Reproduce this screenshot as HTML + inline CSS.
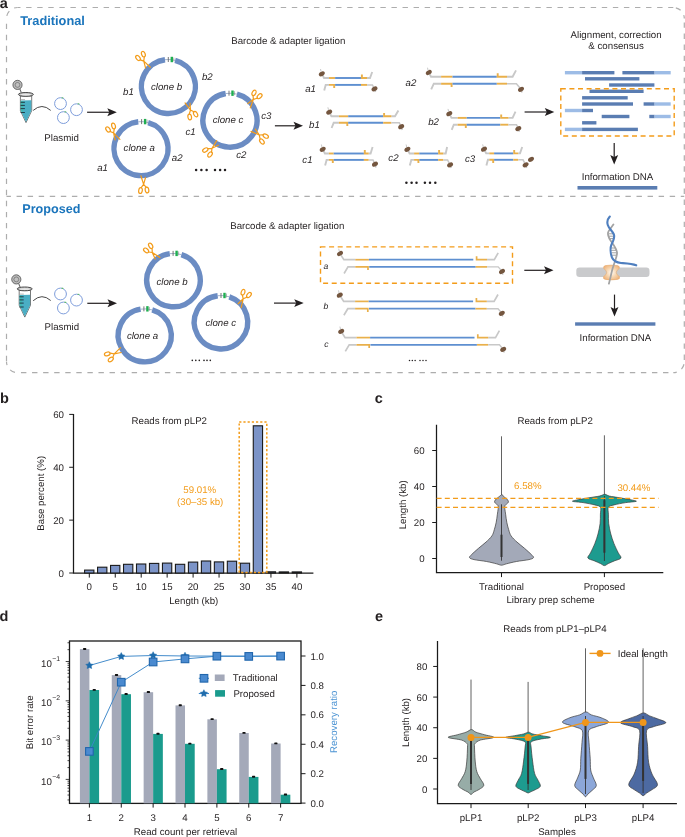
<!DOCTYPE html><html><head><meta charset="utf-8"><style>html,body{margin:0;padding:0;background:#fff;overflow:hidden} svg{display:block;will-change:transform} text{font-family:'Liberation Sans',sans-serif;text-rendering:geometricPrecision}</style></head><body>
<svg width="685" height="837" viewBox="0 0 685 837">
<defs>
<g id="sc" fill="none" stroke="#f39c1a" stroke-width="1.2" stroke-linecap="round" stroke-linejoin="round"><path d="M-2.1 -1.2 L0.6 7.4 L3.1 10.2 M2.5 0.6 L0.6 7.4 L-1.8 10.6"/><ellipse cx="-2.5" cy="13.6" rx="1.8" ry="2.9" transform="rotate(10 -2.5 13.6)"/><ellipse cx="4.0" cy="13.0" rx="1.8" ry="2.9" transform="rotate(-10 4.0 13.0)"/></g>
<g id="tube"><path d="M20.4 96 L20.4 110.7 L26 122.6 L31.7 110.7 L31.7 96 Z" fill="#fff" stroke="#555" stroke-width="0.8"/><path d="M20.8 100.5 L31.3 100.3 L31.3 110.7 L26 122.1 L20.8 110.7 Z" fill="#4aaec4"/><path d="M20.8 101 L23 101 L23 113 L20.8 110.7 Z" fill="#3cbcae" opacity="0.8"/><path d="M20.6 102.3 H24.9 M20.6 105.4 H24.9 M20.6 108.6 H24.9 M20.6 112.5 H24.9" stroke="#1f3f48" stroke-width="1.0"/><path d="M20.6 99.6 H25" stroke="#999" stroke-width="0.7"/><ellipse cx="25.9" cy="94.4" rx="7.5" ry="1.9" fill="#c4c4c4" stroke="#4a4a4a" stroke-width="1.0"/><ellipse cx="25.9" cy="94.6" rx="5.2" ry="0.9" fill="#e8e8e8"/><path d="M19.8 88.9 L21.3 92.6" stroke="#666" stroke-width="1.1"/><circle cx="17.5" cy="84.9" r="4.6" fill="#a8a8a8" stroke="#555" stroke-width="0.8"/><circle cx="17.5" cy="84.9" r="3.4" fill="none" stroke="#d0d0d0" stroke-width="0.6"/><circle cx="17.5" cy="84.9" r="2.4" fill="#c0c0c0" stroke="#666" stroke-width="0.6"/></g>
</defs>
<line x1="17.5" y1="7.5" x2="673.3" y2="7.5" stroke="#adadad" stroke-width="1.2" stroke-dasharray="5.4 5.67" stroke-dashoffset="2.42"/>
<line x1="17.5" y1="372.7" x2="673.3" y2="372.7" stroke="#adadad" stroke-width="1.2" stroke-dasharray="5.4 5.67" stroke-dashoffset="7.59"/>
<line x1="6.5" y1="18.5" x2="6.5" y2="361.7" stroke="#adadad" stroke-width="1.2" stroke-dasharray="5.4 5.67" stroke-dashoffset="5.86"/>
<line x1="684.3" y1="18.5" x2="684.3" y2="361.7" stroke="#adadad" stroke-width="1.2" stroke-dasharray="5.4 5.67" stroke-dashoffset="7.13"/>
<line x1="6.5" y1="196.4" x2="684.3" y2="196.4" stroke="#adadad" stroke-width="1.2" stroke-dasharray="5.4 5.67" stroke-dashoffset="0.99"/>
<path d="M6.5 18.5 A11 11 0 0 1 17.5 7.5" fill="none" stroke="#adadad" stroke-width="1.2" stroke-dasharray="5.4 5.67" stroke-dashoffset="-2.6"/>
<path d="M673.3 7.5 A11 11 0 0 1 684.3 18.5" fill="none" stroke="#adadad" stroke-width="1.2" stroke-dasharray="5.4 5.67" stroke-dashoffset="-2.6"/>
<path d="M684.3 361.7 A11 11 0 0 1 673.3 372.7" fill="none" stroke="#adadad" stroke-width="1.2" stroke-dasharray="5.4 5.67" stroke-dashoffset="-2.6"/>
<path d="M17.5 372.7 A11 11 0 0 1 6.5 361.7" fill="none" stroke="#adadad" stroke-width="1.2" stroke-dasharray="5.4 5.67" stroke-dashoffset="-2.6"/>
<text x="-0.2" y="8" font-size="14.5" text-anchor="start" fill="#231f20" font-weight="bold" font-style="normal" >a</text>
<text x="20.2" y="24.5" font-size="12.8" text-anchor="start" fill="#1b75bc" font-weight="bold" font-style="normal" >Traditional</text>
<text x="22.3" y="212.8" font-size="12.6" text-anchor="start" fill="#1b75bc" font-weight="bold" font-style="normal" >Proposed</text>
<use href="#tube"/>
<path d="M33.2 110.4 Q41.9 102.6 50.7 110.4" fill="none" stroke="#333" stroke-width="0.9"/>
<circle cx="60.5" cy="103.6" r="5.9" fill="none" stroke="#7d9cda" stroke-width="1.0"/>
<path d="M61.7 97.7 a5.9 5.9 0 0 1 1.6 0.3" stroke="#5cc05c" stroke-width="1.1" fill="none"/>
<circle cx="76.5" cy="109.7" r="5.9" fill="none" stroke="#7d9cda" stroke-width="1.0"/>
<path d="M77.7 103.8 a5.9 5.9 0 0 1 1.6 0.3" stroke="#5cc05c" stroke-width="1.1" fill="none"/>
<circle cx="63.4" cy="117.6" r="5.9" fill="none" stroke="#7d9cda" stroke-width="1.0"/>
<path d="M64.6 111.7 a5.9 5.9 0 0 1 1.6 0.3" stroke="#5cc05c" stroke-width="1.1" fill="none"/>
<text x="61.6" y="141.4" font-size="9.7" text-anchor="middle" fill="#231f20" font-weight="normal" font-style="normal" >Plasmid</text>
<line x1="87.1" y1="112.25" x2="109.8" y2="112.25" stroke="#231f20" stroke-width="1.2"/>
<path d="M116.8 112.25 L107.3 108.3 L109.3 112.25 L107.3 116.2 Z" fill="#231f20"/>
<g transform="translate(-1.2 194.5)"><use href="#tube"/></g>
<path d="M33.2 300.7 Q41.9 292.8 50.7 300.5" fill="none" stroke="#333" stroke-width="0.9"/>
<circle cx="60.5" cy="294" r="5.9" fill="none" stroke="#7d9cda" stroke-width="1.0"/>
<path d="M61.7 288.1 a5.9 5.9 0 0 1 1.6 0.3" stroke="#5cc05c" stroke-width="1.1" fill="none"/>
<circle cx="76.5" cy="300.1" r="5.9" fill="none" stroke="#7d9cda" stroke-width="1.0"/>
<path d="M77.7 294.2 a5.9 5.9 0 0 1 1.6 0.3" stroke="#5cc05c" stroke-width="1.1" fill="none"/>
<circle cx="63.4" cy="308" r="5.9" fill="none" stroke="#7d9cda" stroke-width="1.0"/>
<path d="M64.6 302.1 a5.9 5.9 0 0 1 1.6 0.3" stroke="#5cc05c" stroke-width="1.1" fill="none"/>
<text x="61.8" y="330.4" font-size="9.7" text-anchor="middle" fill="#231f20" font-weight="normal" font-style="normal" >Plasmid</text>
<line x1="87.3" y1="303.3" x2="110" y2="303.3" stroke="#231f20" stroke-width="1.2"/>
<path d="M117 303.3 L107.5 299.35 L109.5 303.3 L107.5 307.25 Z" fill="#231f20"/>
<path d="M148.1 122.55 A27 27 0 1 1 138.3 121.74" fill="none" stroke="#6b8cc3" stroke-width="5.4"/>
<path d="M138.3 121.74 A27 27 0 0 1 148.1 122.55" fill="none" stroke="#8aa0c0" stroke-width="0.8"/>
<line x1="141.6" y1="119.1" x2="141.6" y2="124.1" stroke="#666" stroke-width="0.9"/>
<rect x="143.9" y="118.9" width="2.4" height="5.4" fill="#1fae4f"/>
<line x1="147.1" y1="119.6" x2="147.1" y2="123.6" stroke="#888" stroke-width="0.6"/>
<path d="M175.1 60.34 A27 27 0 1 1 165 59.71" fill="none" stroke="#6b8cc3" stroke-width="5.4"/>
<path d="M165 59.71 A27 27 0 0 1 175.1 60.34" fill="none" stroke="#8aa0c0" stroke-width="0.8"/>
<line x1="168.3" y1="57" x2="168.3" y2="62" stroke="#666" stroke-width="0.9"/>
<rect x="170.6" y="56.8" width="2.4" height="5.4" fill="#1fae4f"/>
<line x1="173.8" y1="57.5" x2="173.8" y2="61.5" stroke="#888" stroke-width="0.6"/>
<path d="M236.9 94.1 A27 27 0 1 1 225.7 93.54" fill="none" stroke="#6b8cc3" stroke-width="5.4"/>
<path d="M225.7 93.54 A27 27 0 0 1 236.9 94.1" fill="none" stroke="#8aa0c0" stroke-width="0.8"/>
<line x1="229" y1="90.7" x2="229" y2="95.7" stroke="#666" stroke-width="0.9"/>
<rect x="231.3" y="90.5" width="2.4" height="5.4" fill="#1fae4f"/>
<line x1="234.5" y1="91.2" x2="234.5" y2="95.2" stroke="#888" stroke-width="0.6"/>
<text x="139.2" y="151.2" font-size="9.7" text-anchor="middle" fill="#231f20" font-weight="normal" font-style="italic" >clone a</text>
<text x="166.6" y="89.5" font-size="9.7" text-anchor="middle" fill="#231f20" font-weight="normal" font-style="italic" >clone b</text>
<text x="228" y="123.4" font-size="9.7" text-anchor="middle" fill="#231f20" font-weight="normal" font-style="italic" >clone c</text>
<text x="97.2" y="170.5" font-size="9.7" text-anchor="start" fill="#231f20" font-weight="normal" font-style="italic" >a1</text>
<text x="171.8" y="161.1" font-size="9.7" text-anchor="start" fill="#231f20" font-weight="normal" font-style="italic" >a2</text>
<text x="123" y="94.9" font-size="9.7" text-anchor="start" fill="#231f20" font-weight="normal" font-style="italic" >b1</text>
<text x="201.9" y="79.7" font-size="9.7" text-anchor="start" fill="#231f20" font-weight="normal" font-style="italic" >b2</text>
<text x="185.5" y="135.2" font-size="9.7" text-anchor="start" fill="#231f20" font-weight="normal" font-style="italic" >c1</text>
<text x="236.2" y="158.2" font-size="9.7" text-anchor="start" fill="#231f20" font-weight="normal" font-style="italic" >c2</text>
<text x="261.2" y="119.4" font-size="9.7" text-anchor="start" fill="#231f20" font-weight="normal" font-style="italic" >c3</text>
<use href="#sc" transform="translate(143 177) rotate(0) scale(1.0)"/>
<use href="#sc" transform="translate(117.5 139.2) rotate(153) scale(1.0)"/>
<use href="#sc" transform="translate(148 67.2) rotate(150) scale(1.0)"/>
<use href="#sc" transform="translate(187.4 103.3) rotate(-20) scale(1.0)"/>
<use href="#sc" transform="translate(249.4 105.6) rotate(-143) scale(1.0)"/>
<use href="#sc" transform="translate(253.3 130.6) rotate(-49) scale(1.0)"/>
<use href="#sc" transform="translate(217.2 143) rotate(49) scale(1.0)"/>
<circle cx="406.4" cy="182.7" r="1.25" fill="#231f20"/>
<circle cx="411.6" cy="182.7" r="1.25" fill="#231f20"/>
<circle cx="416.5" cy="182.7" r="1.25" fill="#231f20"/>
<circle cx="424.9" cy="182.7" r="1.25" fill="#231f20"/>
<circle cx="430" cy="182.7" r="1.25" fill="#231f20"/>
<circle cx="435.3" cy="182.7" r="1.25" fill="#231f20"/>
<circle cx="196.1" cy="169.9" r="1.25" fill="#231f20"/>
<circle cx="201.4" cy="169.9" r="1.25" fill="#231f20"/>
<circle cx="206.6" cy="169.9" r="1.25" fill="#231f20"/>
<circle cx="215" cy="169.9" r="1.25" fill="#231f20"/>
<circle cx="220.1" cy="169.9" r="1.25" fill="#231f20"/>
<circle cx="225" cy="169.9" r="1.25" fill="#231f20"/>
<line x1="274.9" y1="125.8" x2="296" y2="125.8" stroke="#231f20" stroke-width="1.2"/>
<path d="M303 125.8 L293.5 121.85 L295.5 125.8 L293.5 129.75 Z" fill="#231f20"/>
<path d="M322.7 75.4 L324 78 H329" fill="none" stroke="#c8c8c8" stroke-width="1.9"/>
<path d="M367 78 H370 L372.2 72" fill="none" stroke="#c8c8c8" stroke-width="1.9"/>
<path d="M329 78 H335.1" stroke="#e9b04b" stroke-width="1.9"/>
<path d="M335.1 78 H361" stroke="#5e8fd0" stroke-width="1.9"/>
<path d="M361.9 74.6 V78 H367" fill="none" stroke="#e9b04b" stroke-width="1.9"/>
<path d="M324.2 90.4 L325.7 84.9 H329" fill="none" stroke="#c8c8c8" stroke-width="1.9"/>
<path d="M329 84.9 H334.2 V88.1" fill="none" stroke="#e9b04b" stroke-width="1.9"/>
<path d="M335.1 84.9 H361" stroke="#5e8fd0" stroke-width="1.9"/>
<path d="M361 84.9 H367" stroke="#e9b04b" stroke-width="1.9"/>
<path d="M367 84.9 H372.4 L374.3 88.5 L375.5 92.1" fill="none" stroke="#c8c8c8" stroke-width="1.52"/>
<ellipse cx="321.8" cy="73.8" rx="3.2" ry="2.2" transform="rotate(-32 321.8 73.8)" fill="#74563f"/>
<path d="M320.5 69 L321.1 71.6" fill="none" stroke="#c8c8c8" stroke-width="1"/>
<ellipse cx="374.5" cy="88.9" rx="3.2" ry="2.2" transform="rotate(-32 374.5 88.9)" fill="#74563f"/>
<text x="305.2" y="91.9" font-size="9.7" text-anchor="start" fill="#231f20" font-weight="normal" font-style="italic" >a1</text>
<path d="M429.7 74.1 L431 76.7 H441.1" fill="none" stroke="#c8c8c8" stroke-width="1.9"/>
<path d="M507 76.7 H512.6 L516 70.4" fill="none" stroke="#c8c8c8" stroke-width="1.9"/>
<path d="M441.1 76.7 H452.5" stroke="#e9b04b" stroke-width="1.9"/>
<path d="M452.5 76.7 H496.8" stroke="#5e8fd0" stroke-width="1.9"/>
<path d="M497.7 73.3 V76.7 H507" fill="none" stroke="#e9b04b" stroke-width="1.9"/>
<path d="M431.2 89.4 L433.8 83.7 H441.1" fill="none" stroke="#c8c8c8" stroke-width="1.9"/>
<path d="M441.1 83.7 H451.6 V86.9" fill="none" stroke="#e9b04b" stroke-width="1.9"/>
<path d="M452.5 83.7 H496.8" stroke="#5e8fd0" stroke-width="1.9"/>
<path d="M496.8 83.7 H507" stroke="#e9b04b" stroke-width="1.9"/>
<path d="M507 83.7 H516.4 L520.8 88.9 L522 92.5" fill="none" stroke="#c8c8c8" stroke-width="1.52"/>
<ellipse cx="428.8" cy="72.5" rx="3.2" ry="2.2" transform="rotate(-32 428.8 72.5)" fill="#74563f"/>
<path d="M427.5 67.7 L428.1 70.3" fill="none" stroke="#c8c8c8" stroke-width="1"/>
<ellipse cx="521" cy="89.3" rx="3.2" ry="2.2" transform="rotate(-32 521 89.3)" fill="#74563f"/>
<text x="405.5" y="85.6" font-size="9.7" text-anchor="start" fill="#231f20" font-weight="normal" font-style="italic" >a2</text>
<path d="M330.1 113.7 L331.4 116.3 H338.9" fill="none" stroke="#c8c8c8" stroke-width="1.9"/>
<path d="M391.4 116.3 H395 L398.4 110.5" fill="none" stroke="#c8c8c8" stroke-width="1.9"/>
<path d="M338.9 116.3 H348.2" stroke="#e9b04b" stroke-width="1.9"/>
<path d="M348.2 116.3 H383.2" stroke="#5e8fd0" stroke-width="1.9"/>
<path d="M384.1 112.9 V116.3 H391.4" fill="none" stroke="#e9b04b" stroke-width="1.9"/>
<path d="M331.6 128 L333.7 122.8 H338.9" fill="none" stroke="#c8c8c8" stroke-width="1.9"/>
<path d="M338.9 122.8 H347.3 V126" fill="none" stroke="#e9b04b" stroke-width="1.9"/>
<path d="M348.2 122.8 H383.2" stroke="#5e8fd0" stroke-width="1.9"/>
<path d="M383.2 122.8 H391.4" stroke="#e9b04b" stroke-width="1.9"/>
<path d="M391.4 122.8 H399.3 L401 126.3 L402.2 129.9" fill="none" stroke="#c8c8c8" stroke-width="1.52"/>
<ellipse cx="329.2" cy="112.1" rx="3.2" ry="2.2" transform="rotate(-32 329.2 112.1)" fill="#74563f"/>
<path d="M327.9 107.3 L328.5 109.9" fill="none" stroke="#c8c8c8" stroke-width="1"/>
<ellipse cx="401.2" cy="126.7" rx="3.2" ry="2.2" transform="rotate(-32 401.2 126.7)" fill="#74563f"/>
<text x="309" y="127.9" font-size="9.7" text-anchor="start" fill="#231f20" font-weight="normal" font-style="italic" >b1</text>
<path d="M450.2 115.3 L451.5 117.9 H457.6" fill="none" stroke="#c8c8c8" stroke-width="1.9"/>
<path d="M508.5 117.9 H512.6 L515.5 111.6" fill="none" stroke="#c8c8c8" stroke-width="1.9"/>
<path d="M457.6 117.9 H466.7" stroke="#e9b04b" stroke-width="1.9"/>
<path d="M466.7 117.9 H500.3" stroke="#5e8fd0" stroke-width="1.9"/>
<path d="M501.2 114.5 V117.9 H508.5" fill="none" stroke="#e9b04b" stroke-width="1.9"/>
<path d="M451.7 129.9 L453.8 124.7 H457.6" fill="none" stroke="#c8c8c8" stroke-width="1.9"/>
<path d="M457.6 124.7 H465.8 V127.9" fill="none" stroke="#e9b04b" stroke-width="1.9"/>
<path d="M466.7 124.7 H500.3" stroke="#5e8fd0" stroke-width="1.9"/>
<path d="M500.3 124.7 H508.5" stroke="#e9b04b" stroke-width="1.9"/>
<path d="M508.5 124.7 H516.5 L518.1 128.2 L519.3 131.8" fill="none" stroke="#c8c8c8" stroke-width="1.52"/>
<ellipse cx="449.3" cy="113.7" rx="3.2" ry="2.2" transform="rotate(-32 449.3 113.7)" fill="#74563f"/>
<path d="M448 108.9 L448.6 111.5" fill="none" stroke="#c8c8c8" stroke-width="1"/>
<ellipse cx="518.3" cy="128.6" rx="3.2" ry="2.2" transform="rotate(-32 518.3 128.6)" fill="#74563f"/>
<text x="428.2" y="124.5" font-size="9.7" text-anchor="start" fill="#231f20" font-weight="normal" font-style="italic" >b2</text>
<path d="M323.6 150.9 L324.9 153.5 H328.9" fill="none" stroke="#c8c8c8" stroke-width="1.9"/>
<path d="M368.7 153.5 H370.6 L372.6 147" fill="none" stroke="#c8c8c8" stroke-width="1.9"/>
<path d="M328.9 153.5 H333.7" stroke="#e9b04b" stroke-width="1.9"/>
<path d="M333.7 153.5 H363.9" stroke="#5e8fd0" stroke-width="1.9"/>
<path d="M364.8 150.1 V153.5 H368.7" fill="none" stroke="#e9b04b" stroke-width="1.9"/>
<path d="M325.1 165.5 L326.6 159.9 H328.9" fill="none" stroke="#c8c8c8" stroke-width="1.9"/>
<path d="M328.9 159.9 H332.8 V163.1" fill="none" stroke="#e9b04b" stroke-width="1.9"/>
<path d="M333.7 159.9 H363.9" stroke="#5e8fd0" stroke-width="1.9"/>
<path d="M363.9 159.9 H368.7" stroke="#e9b04b" stroke-width="1.9"/>
<path d="M368.7 159.9 H373 L374.8 163.8 L376 167.4" fill="none" stroke="#c8c8c8" stroke-width="1.52"/>
<ellipse cx="322.7" cy="149.3" rx="3.2" ry="2.2" transform="rotate(-32 322.7 149.3)" fill="#74563f"/>
<path d="M321.4 144.5 L322 147.1" fill="none" stroke="#c8c8c8" stroke-width="1"/>
<ellipse cx="375" cy="164.2" rx="3.2" ry="2.2" transform="rotate(-32 375 164.2)" fill="#74563f"/>
<text x="302.3" y="163.4" font-size="9.7" text-anchor="start" fill="#231f20" font-weight="normal" font-style="italic" >c1</text>
<path d="M408.3 150.9 L409.6 153.5 H414.1" fill="none" stroke="#c8c8c8" stroke-width="1.9"/>
<path d="M443.3 153.5 H445.7 L447.1 147" fill="none" stroke="#c8c8c8" stroke-width="1.9"/>
<path d="M414.1 153.5 H419.3" stroke="#e9b04b" stroke-width="1.9"/>
<path d="M419.3 153.5 H438.2" stroke="#5e8fd0" stroke-width="1.9"/>
<path d="M439.1 150.1 V153.5 H443.3" fill="none" stroke="#e9b04b" stroke-width="1.9"/>
<path d="M409.8 165.5 L411.3 159.9 H414.1" fill="none" stroke="#c8c8c8" stroke-width="1.9"/>
<path d="M414.1 159.9 H418.4 V163.1" fill="none" stroke="#e9b04b" stroke-width="1.9"/>
<path d="M419.3 159.9 H438.2" stroke="#5e8fd0" stroke-width="1.9"/>
<path d="M438.2 159.9 H443.3" stroke="#e9b04b" stroke-width="1.9"/>
<path d="M443.3 159.9 H447.6 L449.9 164.5 L451.1 168.1" fill="none" stroke="#c8c8c8" stroke-width="1.52"/>
<ellipse cx="407.4" cy="149.3" rx="3.2" ry="2.2" transform="rotate(-32 407.4 149.3)" fill="#74563f"/>
<path d="M406.1 144.5 L406.7 147.1" fill="none" stroke="#c8c8c8" stroke-width="1"/>
<ellipse cx="450.1" cy="164.9" rx="3.2" ry="2.2" transform="rotate(-32 450.1 164.9)" fill="#74563f"/>
<text x="388.3" y="160.7" font-size="9.7" text-anchor="start" fill="#231f20" font-weight="normal" font-style="italic" >c2</text>
<path d="M484.9 150.8 L486.2 153.4 H489.3" fill="none" stroke="#c8c8c8" stroke-width="1.9"/>
<path d="M518.2 153.4 H520 L522.2 147" fill="none" stroke="#c8c8c8" stroke-width="1.9"/>
<path d="M489.3 153.4 H494.1" stroke="#e9b04b" stroke-width="1.9"/>
<path d="M494.1 153.4 H513.3" stroke="#5e8fd0" stroke-width="1.9"/>
<path d="M514.2 150 V153.4 H518.2" fill="none" stroke="#e9b04b" stroke-width="1.9"/>
<path d="M486.4 165.4 L487.9 159.8 H489.3" fill="none" stroke="#c8c8c8" stroke-width="1.9"/>
<path d="M489.3 159.8 H493.2 V163" fill="none" stroke="#e9b04b" stroke-width="1.9"/>
<path d="M494.1 159.8 H513.3" stroke="#5e8fd0" stroke-width="1.9"/>
<path d="M513.3 159.8 H518.2" stroke="#e9b04b" stroke-width="1.9"/>
<path d="M518.2 159.8 H523 L525.4 164.4 L526.6 168" fill="none" stroke="#c8c8c8" stroke-width="1.52"/>
<ellipse cx="484" cy="149.2" rx="3.2" ry="2.2" transform="rotate(-32 484 149.2)" fill="#74563f"/>
<path d="M482.7 144.4 L483.3 147" fill="none" stroke="#c8c8c8" stroke-width="1"/>
<ellipse cx="525.6" cy="164.8" rx="3.2" ry="2.2" transform="rotate(-32 525.6 164.8)" fill="#74563f"/>
<ellipse cx="531" cy="159.3" rx="3.2" ry="2.2" transform="rotate(-32 531 159.3)" fill="#74563f"/>
<text x="465" y="161.5" font-size="9.7" text-anchor="start" fill="#231f20" font-weight="normal" font-style="italic" >c3</text>
<line x1="524.6" y1="112" x2="547.3" y2="112" stroke="#231f20" stroke-width="1.2"/>
<path d="M554.3 112 L544.8 108.05 L546.8 112 L544.8 115.95 Z" fill="#231f20"/>
<text x="616.1" y="37.6" font-size="9.7" text-anchor="middle" fill="#231f20" font-weight="normal" font-style="normal" >Alignment, correction</text>
<text x="616.1" y="49.2" font-size="9.7" text-anchor="middle" fill="#231f20" font-weight="normal" font-style="normal" >&amp; consensus</text>
<rect x="564.9" y="71" width="17.2" height="3.4" fill="#9dbce6"/>
<rect x="582.1" y="71" width="32.3" height="3.4" fill="#5a7db2"/>
<rect x="622.4" y="71" width="32.2" height="3.4" fill="#5a7db2"/>
<rect x="654.6" y="71" width="16.1" height="3.4" fill="#9dbce6"/>
<rect x="585" y="77.1" width="54.4" height="3.4" fill="#5a7db2"/>
<rect x="609.1" y="83.3" width="45.3" height="3.4" fill="#5a7db2"/>
<rect x="589.5" y="89.6" width="54.1" height="3.4" fill="#5a7db2"/>
<rect x="582.1" y="96.1" width="45.6" height="3.4" fill="#5a7db2"/>
<rect x="582.1" y="102.3" width="50.9" height="3.4" fill="#5a7db2"/>
<rect x="643.6" y="102.3" width="11" height="3.4" fill="#5a7db2"/>
<rect x="654.6" y="102.3" width="16.1" height="3.4" fill="#9dbce6"/>
<rect x="564.9" y="108.8" width="17.2" height="3.4" fill="#9dbce6"/>
<rect x="582.1" y="108.8" width="10.9" height="3.4" fill="#5a7db2"/>
<rect x="601.7" y="114.8" width="27.7" height="3.4" fill="#5a7db2"/>
<rect x="649.3" y="114.8" width="5.3" height="3.4" fill="#5a7db2"/>
<rect x="654.6" y="114.8" width="16.1" height="3.4" fill="#9dbce6"/>
<rect x="582.1" y="121.1" width="14.3" height="3.4" fill="#5a7db2"/>
<rect x="564.9" y="127.7" width="17.2" height="3.4" fill="#9dbce6"/>
<rect x="582.1" y="127.7" width="55.8" height="3.4" fill="#5a7db2"/>
<rect x="560.8" y="88.8" width="113.4" height="47.2" fill="none" stroke="#f39c1a" stroke-width="1.4" stroke-dasharray="5 3.6"/>
<line x1="614.2" y1="143" x2="614.2" y2="157.5" stroke="#231f20" stroke-width="1.2"/>
<path d="M614.2 164.5 L610.25 155 L614.2 157 L618.15 155 Z" fill="#231f20"/>
<text x="617.5" y="179.9" font-size="9.7" text-anchor="middle" fill="#231f20" font-weight="normal" font-style="normal" >Information DNA</text>
<rect x="577.5" y="186" width="79.8" height="3.6" fill="#5a7db2"/>
<path d="M181.4 254.6 A26.7 26.7 0 1 1 169.8 253.66" fill="none" stroke="#6b8cc3" stroke-width="5.4"/>
<path d="M169.8 253.66 A26.7 26.7 0 0 1 181.4 254.6" fill="none" stroke="#8aa0c0" stroke-width="0.8"/>
<line x1="173.1" y1="250.9" x2="173.1" y2="255.9" stroke="#666" stroke-width="0.9"/>
<rect x="175.4" y="250.7" width="2.4" height="5.4" fill="#1fae4f"/>
<line x1="178.6" y1="251.4" x2="178.6" y2="255.4" stroke="#888" stroke-width="0.6"/>
<path d="M152.2 309.93 A26.5 26.5 0 1 1 140.6 309.17" fill="none" stroke="#6b8cc3" stroke-width="5.4"/>
<path d="M140.6 309.17 A26.5 26.5 0 0 1 152.2 309.93" fill="none" stroke="#8aa0c0" stroke-width="0.8"/>
<line x1="143.9" y1="306.35" x2="143.9" y2="311.35" stroke="#666" stroke-width="0.9"/>
<rect x="146.2" y="306.15" width="2.4" height="5.4" fill="#1fae4f"/>
<line x1="149.4" y1="306.85" x2="149.4" y2="310.85" stroke="#888" stroke-width="0.6"/>
<path d="M229.3 296.82 A26.7 26.7 0 1 1 217.7 295.7" fill="none" stroke="#6b8cc3" stroke-width="5.4"/>
<path d="M217.7 295.7 A26.7 26.7 0 0 1 229.3 296.82" fill="none" stroke="#8aa0c0" stroke-width="0.8"/>
<line x1="221" y1="293" x2="221" y2="298" stroke="#666" stroke-width="0.9"/>
<rect x="223.3" y="292.8" width="2.4" height="5.4" fill="#1fae4f"/>
<line x1="226.5" y1="293.5" x2="226.5" y2="297.5" stroke="#888" stroke-width="0.6"/>
<text x="172.1" y="284.5" font-size="9.7" text-anchor="middle" fill="#231f20" font-weight="normal" font-style="italic" >clone b</text>
<text x="142.5" y="338.5" font-size="9.7" text-anchor="middle" fill="#231f20" font-weight="normal" font-style="italic" >clone a</text>
<text x="220.8" y="325.7" font-size="9.7" text-anchor="middle" fill="#231f20" font-weight="normal" font-style="italic" >clone c</text>
<use href="#sc" transform="translate(157.5 257.8) rotate(140) scale(1.0)"/>
<use href="#sc" transform="translate(120.5 350) rotate(63) scale(1.0)"/>
<use href="#sc" transform="translate(240 305.5) rotate(-150) scale(1.0)"/>
<circle cx="192.3" cy="360.4" r="0.8" fill="#231f20"/>
<circle cx="195.8" cy="360.4" r="0.8" fill="#231f20"/>
<circle cx="199.3" cy="360.4" r="0.8" fill="#231f20"/>
<circle cx="204" cy="360.4" r="0.8" fill="#231f20"/>
<circle cx="207" cy="360.4" r="0.8" fill="#231f20"/>
<circle cx="210.3" cy="360.4" r="0.8" fill="#231f20"/>
<line x1="274" y1="303.1" x2="296.7" y2="303.1" stroke="#231f20" stroke-width="1.2"/>
<path d="M303.7 303.1 L294.2 299.15 L296.2 303.1 L294.2 307.05 Z" fill="#231f20"/>
<text x="231.2" y="43.8" font-size="9.7" text-anchor="start" fill="#231f20" font-weight="normal" font-style="normal" >Barcode &amp; adapter ligation</text>
<text x="230.2" y="228.9" font-size="9.7" text-anchor="start" fill="#231f20" font-weight="normal" font-style="normal" >Barcode &amp; adapter ligation</text>
<rect x="320.5" y="246.9" width="192" height="36.4" fill="none" stroke="#f39c1a" stroke-width="1.4" stroke-dasharray="5 3.6"/>
<path d="M340.9 255.1 L343.9 259.7 H355.3" fill="none" stroke="#c8c8c8" stroke-width="1.7"/>
<path d="M487 259.7 H494.3 L498.2 252.8" fill="none" stroke="#c8c8c8" stroke-width="1.7"/>
<path d="M355.3 259.7 H368.9" stroke="#e9b04b" stroke-width="1.7"/>
<path d="M368.9 259.7 H473.3" stroke="#5e8fd0" stroke-width="1.7"/>
<path d="M476.6 256.3 V259.7 H487" fill="none" stroke="#e9b04b" stroke-width="1.7"/>
<path d="M344.1 273.5 L348 266.9 H355.3" fill="none" stroke="#c8c8c8" stroke-width="1.7"/>
<path d="M355.3 266.9 H368 V270.1" fill="none" stroke="#e9b04b" stroke-width="1.7"/>
<path d="M369.2 266.9 H475.7" stroke="#5e8fd0" stroke-width="1.7"/>
<path d="M475.7 266.9 H487" stroke="#e9b04b" stroke-width="1.7"/>
<path d="M487 266.9 H498.2 L501.8 271.1 L503 274.7" fill="none" stroke="#c8c8c8" stroke-width="1.36"/>
<ellipse cx="340" cy="253.5" rx="3.2" ry="2.2" transform="rotate(-32 340 253.5)" fill="#74563f"/>
<path d="M338.7 248.7 L339.3 251.3" fill="none" stroke="#c8c8c8" stroke-width="1"/>
<ellipse cx="502" cy="271.5" rx="3.2" ry="2.2" transform="rotate(-32 502 271.5)" fill="#74563f"/>
<path d="M340.7 296.8 L343.7 301.4 H355.1" fill="none" stroke="#c8c8c8" stroke-width="1.7"/>
<path d="M486.8 301.4 H494.1 L498 294.5" fill="none" stroke="#c8c8c8" stroke-width="1.7"/>
<path d="M355.1 301.4 H368.7" stroke="#e9b04b" stroke-width="1.7"/>
<path d="M368.7 301.4 H473.1" stroke="#5e8fd0" stroke-width="1.7"/>
<path d="M476.4 298 V301.4 H486.8" fill="none" stroke="#e9b04b" stroke-width="1.7"/>
<path d="M343.9 315.3 L347.8 308.7 H355.1" fill="none" stroke="#c8c8c8" stroke-width="1.7"/>
<path d="M355.1 308.7 H367.8 V311.9" fill="none" stroke="#e9b04b" stroke-width="1.7"/>
<path d="M369 308.7 H475.5" stroke="#5e8fd0" stroke-width="1.7"/>
<path d="M475.5 308.7 H486.8" stroke="#e9b04b" stroke-width="1.7"/>
<path d="M486.8 308.7 H498 L501.6 312.9 L502.8 316.5" fill="none" stroke="#c8c8c8" stroke-width="1.36"/>
<ellipse cx="339.8" cy="295.2" rx="3.2" ry="2.2" transform="rotate(-32 339.8 295.2)" fill="#74563f"/>
<path d="M338.5 290.4 L339.1 293" fill="none" stroke="#c8c8c8" stroke-width="1"/>
<ellipse cx="501.8" cy="313.3" rx="3.2" ry="2.2" transform="rotate(-32 501.8 313.3)" fill="#74563f"/>
<path d="M342.1 333 L345.1 337.6 H356.5" fill="none" stroke="#c8c8c8" stroke-width="1.7"/>
<path d="M488.2 337.6 H495.5 L499.4 330.7" fill="none" stroke="#c8c8c8" stroke-width="1.7"/>
<path d="M356.5 337.6 H370.1" stroke="#e9b04b" stroke-width="1.7"/>
<path d="M370.1 337.6 H474.5" stroke="#5e8fd0" stroke-width="1.7"/>
<path d="M477.8 334.2 V337.6 H488.2" fill="none" stroke="#e9b04b" stroke-width="1.7"/>
<path d="M345.3 351.4 L349.2 344.8 H356.5" fill="none" stroke="#c8c8c8" stroke-width="1.7"/>
<path d="M356.5 344.8 H369.2 V348" fill="none" stroke="#e9b04b" stroke-width="1.7"/>
<path d="M370.4 344.8 H476.9" stroke="#5e8fd0" stroke-width="1.7"/>
<path d="M476.9 344.8 H488.2" stroke="#e9b04b" stroke-width="1.7"/>
<path d="M488.2 344.8 H499.4 L503 349 L504.2 352.6" fill="none" stroke="#c8c8c8" stroke-width="1.36"/>
<ellipse cx="341.2" cy="331.4" rx="3.2" ry="2.2" transform="rotate(-32 341.2 331.4)" fill="#74563f"/>
<path d="M339.9 326.6 L340.5 329.2" fill="none" stroke="#c8c8c8" stroke-width="1"/>
<ellipse cx="503.2" cy="349.4" rx="3.2" ry="2.2" transform="rotate(-32 503.2 349.4)" fill="#74563f"/>
<text x="323.6" y="268.9" font-size="8.6" text-anchor="start" fill="#231f20" font-weight="normal" font-style="italic" >a</text>
<text x="323.5" y="308.7" font-size="8.6" text-anchor="start" fill="#231f20" font-weight="normal" font-style="italic" >b</text>
<text x="324.2" y="346.8" font-size="8.6" text-anchor="start" fill="#231f20" font-weight="normal" font-style="italic" >c</text>
<circle cx="409.5" cy="360.6" r="0.75" fill="#231f20"/>
<circle cx="412.3" cy="360.6" r="0.75" fill="#231f20"/>
<circle cx="415.1" cy="360.6" r="0.75" fill="#231f20"/>
<circle cx="420" cy="360.6" r="0.75" fill="#231f20"/>
<circle cx="423" cy="360.6" r="0.75" fill="#231f20"/>
<circle cx="426" cy="360.6" r="0.75" fill="#231f20"/>
<line x1="524.3" y1="270.3" x2="546.5" y2="270.3" stroke="#231f20" stroke-width="1.2"/>
<path d="M553.5 270.3 L544 266.35 L546 270.3 L544 274.25 Z" fill="#231f20"/>
<defs><radialGradient id="pg" cx="0.5" cy="0.5" r="0.6"><stop offset="0" stop-color="#fffaf2"/><stop offset="0.55" stop-color="#f6d3ab"/><stop offset="1" stop-color="#eeb27a"/></radialGradient></defs>
<rect x="576.3" y="267.5" width="73.2" height="9.5" rx="3.2" fill="#c9cacc"/>
<path d="M605.3 265.6 Q611 264.6 617.6 265.6 Q620 266.2 619.2 268.6 Q613.2 272.6 619.4 276.6 Q620.2 279.2 617.6 279.4 Q611 280.4 605.3 279.4 Q602.8 279.2 603.6 276.6 Q609.6 272.6 603.8 268.6 Q603 266.2 605.3 265.6 Z" fill="url(#pg)" stroke="#e8ad70" stroke-width="0.6"/>
<path d="M608.9 283.7 C610 280 611.5 272 612.9 267.6 C614.2 262.5 617.6 256 617 252.3 C616.5 248.5 613 244 610.7 240.7 C608.5 237.8 607.3 233.5 608.4 231.7 C609.8 229 612 226.5 613.4 224.5" fill="none" stroke="#a3a3a3" stroke-width="1.8" stroke-linecap="round"/>
<line x1="608.8" y1="233.8" x2="613.5" y2="233.8" stroke="#a3a3a3" stroke-width="1"/>
<line x1="608.9" y1="236.2" x2="614.3" y2="236.2" stroke="#a3a3a3" stroke-width="1"/>
<line x1="609.8" y1="238.6" x2="614.1" y2="238.6" stroke="#a3a3a3" stroke-width="1"/>
<line x1="611.2" y1="248.0" x2="615.8" y2="248.0" stroke="#a3a3a3" stroke-width="1"/>
<line x1="611.0" y1="250.3" x2="616.6" y2="250.3" stroke="#a3a3a3" stroke-width="1"/>
<line x1="611.3" y1="252.8" x2="616.8" y2="252.8" stroke="#a3a3a3" stroke-width="1"/>
<line x1="611.8" y1="255.2" x2="616.2" y2="255.2" stroke="#a3a3a3" stroke-width="1"/>
<path d="M609.8 216.5 C608 218.5 606.8 222 607.8 225 C608.8 228.5 612.5 231 613.9 234.5 C615 237.5 613.3 241 611.5 244.5 C610 248 610.6 254 612 257.5 C613.5 261 616.5 262.6 621 263 C626.5 263.4 632 263.6 636.2 265.3" fill="none" stroke="#4f7fbf" stroke-width="2.1" stroke-linecap="round"/>
<line x1="614.5" y1="294.6" x2="614.5" y2="309.5" stroke="#231f20" stroke-width="1.2"/>
<path d="M614.5 316.5 L610.55 307 L614.5 309 L618.45 307 Z" fill="#231f20"/>
<rect x="575.1" y="322.3" width="80.3" height="3.4" fill="#5a7db2"/>
<text x="615.4" y="340.6" font-size="9.7" text-anchor="middle" fill="#231f20" font-weight="normal" font-style="normal" >Information DNA</text>
<text x="0" y="402.9" font-size="14.5" text-anchor="start" fill="#231f20" font-weight="bold" font-style="normal" >b</text>
<path d="M73.5 414 V573 H313.4" fill="none" stroke="#1a1a1a" stroke-width="1.25"/>
<line x1="69.2" y1="573" x2="73.5" y2="573" stroke="#1a1a1a" stroke-width="1"/>
<text x="64" y="576.5" font-size="9.7" text-anchor="end" fill="#231f20" font-weight="normal" font-style="normal" >0</text>
<line x1="69.2" y1="520.13" x2="73.5" y2="520.13" stroke="#1a1a1a" stroke-width="1"/>
<text x="64" y="523.63" font-size="9.7" text-anchor="end" fill="#231f20" font-weight="normal" font-style="normal" >20</text>
<line x1="69.2" y1="467.27" x2="73.5" y2="467.27" stroke="#1a1a1a" stroke-width="1"/>
<text x="64" y="470.77" font-size="9.7" text-anchor="end" fill="#231f20" font-weight="normal" font-style="normal" >40</text>
<line x1="69.2" y1="414.4" x2="73.5" y2="414.4" stroke="#1a1a1a" stroke-width="1"/>
<text x="64" y="417.9" font-size="9.7" text-anchor="end" fill="#231f20" font-weight="normal" font-style="normal" >60</text>
<line x1="89.3" y1="573" x2="89.3" y2="577.6" stroke="#1a1a1a" stroke-width="1"/>
<text x="89.3" y="589.5" font-size="9.7" text-anchor="middle" fill="#231f20" font-weight="normal" font-style="normal" >0</text>
<line x1="115.25" y1="573" x2="115.25" y2="577.6" stroke="#1a1a1a" stroke-width="1"/>
<text x="115.25" y="589.5" font-size="9.7" text-anchor="middle" fill="#231f20" font-weight="normal" font-style="normal" >5</text>
<line x1="141.2" y1="573" x2="141.2" y2="577.6" stroke="#1a1a1a" stroke-width="1"/>
<text x="141.2" y="589.5" font-size="9.7" text-anchor="middle" fill="#231f20" font-weight="normal" font-style="normal" >10</text>
<line x1="167.15" y1="573" x2="167.15" y2="577.6" stroke="#1a1a1a" stroke-width="1"/>
<text x="167.15" y="589.5" font-size="9.7" text-anchor="middle" fill="#231f20" font-weight="normal" font-style="normal" >15</text>
<line x1="193.1" y1="573" x2="193.1" y2="577.6" stroke="#1a1a1a" stroke-width="1"/>
<text x="193.1" y="589.5" font-size="9.7" text-anchor="middle" fill="#231f20" font-weight="normal" font-style="normal" >20</text>
<line x1="219.05" y1="573" x2="219.05" y2="577.6" stroke="#1a1a1a" stroke-width="1"/>
<text x="219.05" y="589.5" font-size="9.7" text-anchor="middle" fill="#231f20" font-weight="normal" font-style="normal" >25</text>
<line x1="245" y1="573" x2="245" y2="577.6" stroke="#1a1a1a" stroke-width="1"/>
<text x="245" y="589.5" font-size="9.7" text-anchor="middle" fill="#231f20" font-weight="normal" font-style="normal" >30</text>
<line x1="270.95" y1="573" x2="270.95" y2="577.6" stroke="#1a1a1a" stroke-width="1"/>
<text x="270.95" y="589.5" font-size="9.7" text-anchor="middle" fill="#231f20" font-weight="normal" font-style="normal" >35</text>
<line x1="296.9" y1="573" x2="296.9" y2="577.6" stroke="#1a1a1a" stroke-width="1"/>
<text x="296.9" y="589.5" font-size="9.7" text-anchor="middle" fill="#231f20" font-weight="normal" font-style="normal" >40</text>
<rect x="84.6" y="570.1" width="9.3" height="2.9" fill="#7c94c8" stroke="#1a1a1a" stroke-width="1.1"/>
<rect x="97.57" y="567.2" width="9.3" height="5.8" fill="#7c94c8" stroke="#1a1a1a" stroke-width="1.1"/>
<rect x="110.55" y="565.4" width="9.3" height="7.6" fill="#7c94c8" stroke="#1a1a1a" stroke-width="1.1"/>
<rect x="123.53" y="564.3" width="9.3" height="8.7" fill="#7c94c8" stroke="#1a1a1a" stroke-width="1.1"/>
<rect x="136.5" y="564" width="9.3" height="9" fill="#7c94c8" stroke="#1a1a1a" stroke-width="1.1"/>
<rect x="149.47" y="563.4" width="9.3" height="9.6" fill="#7c94c8" stroke="#1a1a1a" stroke-width="1.1"/>
<rect x="162.45" y="563.1" width="9.3" height="9.9" fill="#7c94c8" stroke="#1a1a1a" stroke-width="1.1"/>
<rect x="175.42" y="564.3" width="9.3" height="8.7" fill="#7c94c8" stroke="#1a1a1a" stroke-width="1.1"/>
<rect x="188.4" y="562.1" width="9.3" height="10.9" fill="#7c94c8" stroke="#1a1a1a" stroke-width="1.1"/>
<rect x="201.37" y="561" width="9.3" height="12" fill="#7c94c8" stroke="#1a1a1a" stroke-width="1.1"/>
<rect x="214.35" y="561.9" width="9.3" height="11.1" fill="#7c94c8" stroke="#1a1a1a" stroke-width="1.1"/>
<rect x="227.32" y="561.2" width="9.3" height="11.8" fill="#7c94c8" stroke="#1a1a1a" stroke-width="1.1"/>
<rect x="240.3" y="563.2" width="9.3" height="9.8" fill="#7c94c8" stroke="#1a1a1a" stroke-width="1.1"/>
<rect x="253.27" y="425.8" width="9.3" height="147.2" fill="#7c94c8" stroke="#1a1a1a" stroke-width="1.1"/>
<rect x="266.25" y="571.8" width="9.3" height="1.2" fill="#7c94c8" stroke="#1a1a1a" stroke-width="1.1"/>
<rect x="279.23" y="571.9" width="9.3" height="1.1" fill="#7c94c8" stroke="#1a1a1a" stroke-width="1.1"/>
<rect x="292.2" y="571.9" width="9.3" height="1.1" fill="#7c94c8" stroke="#1a1a1a" stroke-width="1.1"/>
<rect x="239.2" y="422" width="27.6" height="150.6" fill="none" stroke="#f39c1a" stroke-width="1.5" stroke-dasharray="2.2 2"/>
<text x="169.3" y="423.7" font-size="9.7" text-anchor="middle" fill="#231f20" font-weight="normal" font-style="normal" >Reads from pLP2</text>
<text x="199.8" y="493.3" font-size="9.7" text-anchor="middle" fill="#f39c1a" font-weight="normal" font-style="normal" >59.01%</text>
<text x="200.2" y="504.8" font-size="9.7" text-anchor="middle" fill="#f39c1a" font-weight="normal" font-style="normal" >(30–35 kb)</text>
<text x="193.75" y="603.6" font-size="9.7" text-anchor="middle" fill="#231f20" font-weight="normal" font-style="normal" >Length (kb)</text>
<text x="44.5" y="493.3" font-size="9.7" text-anchor="middle" fill="#231f20" transform="rotate(-90 44.5 493.3)">Base percent (%)</text>
<text x="374.8" y="403.2" font-size="14.5" text-anchor="start" fill="#231f20" font-weight="bold" font-style="normal" >c</text>
<path d="M436.5 424.7 V572.5 H663.3" fill="none" stroke="#1a1a1a" stroke-width="1.25"/>
<line x1="432.2" y1="558.5" x2="436.5" y2="558.5" stroke="#1a1a1a" stroke-width="1"/>
<text x="424.6" y="562" font-size="9.7" text-anchor="end" fill="#231f20" font-weight="normal" font-style="normal" >0</text>
<line x1="432.2" y1="522.5" x2="436.5" y2="522.5" stroke="#1a1a1a" stroke-width="1"/>
<text x="424.6" y="526" font-size="9.7" text-anchor="end" fill="#231f20" font-weight="normal" font-style="normal" >20</text>
<line x1="432.2" y1="486.5" x2="436.5" y2="486.5" stroke="#1a1a1a" stroke-width="1"/>
<text x="424.6" y="490" font-size="9.7" text-anchor="end" fill="#231f20" font-weight="normal" font-style="normal" >40</text>
<line x1="432.2" y1="450.5" x2="436.5" y2="450.5" stroke="#1a1a1a" stroke-width="1"/>
<text x="424.6" y="454" font-size="9.7" text-anchor="end" fill="#231f20" font-weight="normal" font-style="normal" >60</text>
<line x1="501.5" y1="572.5" x2="501.5" y2="577.1" stroke="#1a1a1a" stroke-width="1"/>
<text x="501.5" y="589.9" font-size="9.7" text-anchor="middle" fill="#231f20" font-weight="normal" font-style="normal" >Traditional</text>
<line x1="604.4" y1="572.5" x2="604.4" y2="577.1" stroke="#1a1a1a" stroke-width="1"/>
<text x="604.4" y="589.9" font-size="9.7" text-anchor="middle" fill="#231f20" font-weight="normal" font-style="normal" >Proposed</text>
<text x="550.6" y="603" font-size="9.7" text-anchor="middle" fill="#231f20" font-weight="normal" font-style="normal" >Library prep scheme</text>
<text x="555.1" y="423.9" font-size="9.7" text-anchor="middle" fill="#231f20" font-weight="normal" font-style="normal" >Reads from pLP2</text>
<line x1="501.5" y1="436.3" x2="501.5" y2="495.6" stroke="#3a3a3a" stroke-width="0.8"/>
<path d="M502 494.6 C502.6 494.6 502.83 495.73 503.3 496.2 C503.77 496.67 504.27 496.98 504.8 497.4 C505.33 497.82 506.03 498.28 506.5 498.7 C506.97 499.12 507.3 499.52 507.6 499.9 C507.9 500.28 508.17 500.63 508.3 501 C508.43 501.37 508.5 501.75 508.4 502.1 C508.3 502.45 508.03 502.77 507.7 503.1 C507.37 503.43 506.82 503.73 506.4 504.1 C505.98 504.47 505.48 504.85 505.2 505.3 C504.92 505.75 504.77 506.25 504.7 506.8 C504.63 507.35 504.63 507.27 504.8 508.6 C504.97 509.93 505.37 512.52 505.7 514.8 C506.03 517.08 506.3 519.82 506.8 522.3 C507.3 524.78 507.98 527.43 508.7 529.7 C509.42 531.97 509.72 533.83 511.1 535.9 C512.48 537.97 514.77 540.03 517 542.1 C519.23 544.17 522.12 546.23 524.5 548.3 C526.88 550.37 529.8 552.95 531.3 554.5 C532.8 556.05 533.88 556.75 533.5 557.6 C533.12 558.45 531.83 558.95 529 559.6 C526.17 560.25 520.25 560.8 516.5 561.5 C512.75 562.2 509 563.18 506.5 563.8 C504 564.42 503.17 565.2 501.5 565.2 C499.83 565.2 499 564.42 496.5 563.8 C494 563.18 490.25 562.2 486.5 561.5 C482.75 560.8 476.83 560.25 474 559.6 C471.17 558.95 469.88 558.45 469.5 557.6 C469.12 556.75 470.2 556.05 471.7 554.5 C473.2 552.95 476.12 550.37 478.5 548.3 C480.88 546.23 483.77 544.17 486 542.1 C488.23 540.03 490.52 537.97 491.9 535.9 C493.28 533.83 493.58 531.97 494.3 529.7 C495.02 527.43 495.7 524.78 496.2 522.3 C496.7 519.82 496.97 517.08 497.3 514.8 C497.63 512.52 498.03 509.93 498.2 508.6 C498.37 507.27 498.37 507.35 498.3 506.8 C498.23 506.25 498.08 505.75 497.8 505.3 C497.52 504.85 497.02 504.47 496.6 504.1 C496.18 503.73 495.63 503.43 495.3 503.1 C494.97 502.77 494.7 502.45 494.6 502.1 C494.5 501.75 494.57 501.37 494.7 501 C494.83 500.63 495.1 500.28 495.4 499.9 C495.7 499.52 496.03 499.12 496.5 498.7 C496.97 498.28 497.67 497.82 498.2 497.4 C498.73 496.98 499.07 496.67 499.7 496.2 C500.33 495.73 501.4 494.6 502 494.6 Z" fill="#a3a9b8" stroke="#3a3a3a" stroke-width="0.7" stroke-linejoin="round"/>
<line x1="501.5" y1="504.3" x2="501.5" y2="560.7" stroke="#333" stroke-width="0.9"/>
<line x1="501.5" y1="534.7" x2="501.5" y2="557" stroke="#333" stroke-width="2"/>
<line x1="604.4" y1="435.3" x2="604.4" y2="495.3" stroke="#3a3a3a" stroke-width="0.8"/>
<path d="M604.9 494.3 C606.57 494.3 606.9 495.52 609.4 496.1 C611.9 496.68 616 497.12 619.9 497.8 C623.8 498.48 630.12 499.6 632.8 500.2 C635.48 500.8 637.17 501 636 501.4 C634.83 501.8 629.45 502.02 625.8 502.6 C622.15 503.18 617 504.13 614.1 504.9 C611.2 505.67 609.35 505.65 608.4 507.2 C607.45 508.75 608.35 511.48 608.4 514.2 C608.45 516.92 608.3 520.2 608.7 523.5 C609.1 526.8 609.93 530.68 610.8 534 C611.67 537.32 612.67 540.28 613.9 543.4 C615.13 546.52 617.03 550.27 618.2 552.7 C619.37 555.13 621.55 556.63 620.9 558 C620.25 559.37 616.38 559.98 614.3 560.9 C612.22 561.82 610.05 562.72 608.4 563.5 C606.75 564.28 605.73 565.6 604.4 565.6 C603.07 565.6 602.05 564.28 600.4 563.5 C598.75 562.72 596.58 561.82 594.5 560.9 C592.42 559.98 588.55 559.37 587.9 558 C587.25 556.63 589.43 555.13 590.6 552.7 C591.77 550.27 593.67 546.52 594.9 543.4 C596.13 540.28 597.13 537.32 598 534 C598.87 530.68 599.7 526.8 600.1 523.5 C600.5 520.2 600.35 516.92 600.4 514.2 C600.45 511.48 601.35 508.75 600.4 507.2 C599.45 505.65 597.6 505.67 594.7 504.9 C591.8 504.13 586.65 503.18 583 502.6 C579.35 502.02 573.97 501.8 572.8 501.4 C571.63 501 573.32 500.8 576 500.2 C578.68 499.6 585 498.48 588.9 497.8 C592.8 497.12 596.73 496.68 599.4 496.1 C602.07 495.52 603.23 494.3 604.9 494.3 Z" fill="#1d9b8f" stroke="#3a3a3a" stroke-width="0.7" stroke-linejoin="round"/>
<line x1="604.4" y1="496" x2="604.4" y2="561" stroke="#333" stroke-width="0.9"/>
<line x1="604.4" y1="500.2" x2="604.4" y2="552.7" stroke="#333" stroke-width="2"/>
<path d="M436.6 498.3 H658.5 M436.6 507.3 H658.5" stroke="#f39c1a" stroke-width="1.3" stroke-dasharray="5 3.2"/>
<text x="514.1" y="489.3" font-size="9.7" text-anchor="start" fill="#f39c1a" font-weight="normal" font-style="normal" >6.58%</text>
<text x="617.4" y="490.8" font-size="9.7" text-anchor="start" fill="#f39c1a" font-weight="normal" font-style="normal" >30.44%</text>
<text x="406.2" y="504.8" font-size="9.7" text-anchor="middle" fill="#231f20" transform="rotate(-90 406.2 504.8)">Length (kb)</text>
<text x="-0.5" y="621.3" font-size="14.5" text-anchor="start" fill="#231f20" font-weight="bold" font-style="normal" >d</text>
<rect x="69.5" y="641" width="231.5" height="162.4" fill="none" stroke="#1a1a1a" stroke-width="1.3"/>
<line x1="67.5" y1="799.95" x2="69.5" y2="799.95" stroke="#1a1a1a" stroke-width="0.8"/>
<line x1="67.5" y1="795.04" x2="69.5" y2="795.04" stroke="#1a1a1a" stroke-width="0.8"/>
<line x1="67.5" y1="791.23" x2="69.5" y2="791.23" stroke="#1a1a1a" stroke-width="0.8"/>
<line x1="67.5" y1="788.12" x2="69.5" y2="788.12" stroke="#1a1a1a" stroke-width="0.8"/>
<line x1="67.5" y1="785.49" x2="69.5" y2="785.49" stroke="#1a1a1a" stroke-width="0.8"/>
<line x1="67.5" y1="783.21" x2="69.5" y2="783.21" stroke="#1a1a1a" stroke-width="0.8"/>
<line x1="67.5" y1="781.2" x2="69.5" y2="781.2" stroke="#1a1a1a" stroke-width="0.8"/>
<line x1="65.7" y1="779.4" x2="69.5" y2="779.4" stroke="#1a1a1a" stroke-width="0.8"/>
<line x1="67.5" y1="767.57" x2="69.5" y2="767.57" stroke="#1a1a1a" stroke-width="0.8"/>
<line x1="67.5" y1="760.65" x2="69.5" y2="760.65" stroke="#1a1a1a" stroke-width="0.8"/>
<line x1="67.5" y1="755.74" x2="69.5" y2="755.74" stroke="#1a1a1a" stroke-width="0.8"/>
<line x1="67.5" y1="751.93" x2="69.5" y2="751.93" stroke="#1a1a1a" stroke-width="0.8"/>
<line x1="67.5" y1="748.82" x2="69.5" y2="748.82" stroke="#1a1a1a" stroke-width="0.8"/>
<line x1="67.5" y1="746.19" x2="69.5" y2="746.19" stroke="#1a1a1a" stroke-width="0.8"/>
<line x1="67.5" y1="743.91" x2="69.5" y2="743.91" stroke="#1a1a1a" stroke-width="0.8"/>
<line x1="67.5" y1="741.9" x2="69.5" y2="741.9" stroke="#1a1a1a" stroke-width="0.8"/>
<line x1="65.7" y1="740.1" x2="69.5" y2="740.1" stroke="#1a1a1a" stroke-width="0.8"/>
<line x1="67.5" y1="728.27" x2="69.5" y2="728.27" stroke="#1a1a1a" stroke-width="0.8"/>
<line x1="67.5" y1="721.35" x2="69.5" y2="721.35" stroke="#1a1a1a" stroke-width="0.8"/>
<line x1="67.5" y1="716.44" x2="69.5" y2="716.44" stroke="#1a1a1a" stroke-width="0.8"/>
<line x1="67.5" y1="712.63" x2="69.5" y2="712.63" stroke="#1a1a1a" stroke-width="0.8"/>
<line x1="67.5" y1="709.52" x2="69.5" y2="709.52" stroke="#1a1a1a" stroke-width="0.8"/>
<line x1="67.5" y1="706.89" x2="69.5" y2="706.89" stroke="#1a1a1a" stroke-width="0.8"/>
<line x1="67.5" y1="704.61" x2="69.5" y2="704.61" stroke="#1a1a1a" stroke-width="0.8"/>
<line x1="67.5" y1="702.6" x2="69.5" y2="702.6" stroke="#1a1a1a" stroke-width="0.8"/>
<line x1="65.7" y1="700.8" x2="69.5" y2="700.8" stroke="#1a1a1a" stroke-width="0.8"/>
<line x1="67.5" y1="688.97" x2="69.5" y2="688.97" stroke="#1a1a1a" stroke-width="0.8"/>
<line x1="67.5" y1="682.05" x2="69.5" y2="682.05" stroke="#1a1a1a" stroke-width="0.8"/>
<line x1="67.5" y1="677.14" x2="69.5" y2="677.14" stroke="#1a1a1a" stroke-width="0.8"/>
<line x1="67.5" y1="673.33" x2="69.5" y2="673.33" stroke="#1a1a1a" stroke-width="0.8"/>
<line x1="67.5" y1="670.22" x2="69.5" y2="670.22" stroke="#1a1a1a" stroke-width="0.8"/>
<line x1="67.5" y1="667.59" x2="69.5" y2="667.59" stroke="#1a1a1a" stroke-width="0.8"/>
<line x1="67.5" y1="665.31" x2="69.5" y2="665.31" stroke="#1a1a1a" stroke-width="0.8"/>
<line x1="67.5" y1="663.3" x2="69.5" y2="663.3" stroke="#1a1a1a" stroke-width="0.8"/>
<line x1="65.7" y1="661.5" x2="69.5" y2="661.5" stroke="#1a1a1a" stroke-width="0.8"/>
<line x1="67.5" y1="649.67" x2="69.5" y2="649.67" stroke="#1a1a1a" stroke-width="0.8"/>
<line x1="67.5" y1="642.75" x2="69.5" y2="642.75" stroke="#1a1a1a" stroke-width="0.8"/>
<text x="41" y="666.6" font-size="9.7" fill="#231f20">10</text>
<text x="52.2" y="660.9" font-size="6.9" fill="#231f20">−1</text>
<text x="41" y="705.9" font-size="9.7" fill="#231f20">10</text>
<text x="52.2" y="700.2" font-size="6.9" fill="#231f20">−2</text>
<text x="41" y="745.2" font-size="9.7" fill="#231f20">10</text>
<text x="52.2" y="739.5" font-size="6.9" fill="#231f20">−3</text>
<text x="41" y="784.5" font-size="9.7" fill="#231f20">10</text>
<text x="52.2" y="778.8" font-size="6.9" fill="#231f20">−4</text>
<rect x="79.9" y="649.1" width="9.5" height="154.2" fill="#a4a9b9"/>
<rect x="89.4" y="690" width="9.7" height="113.3" fill="#1a9b8d"/>
<rect x="83.05" y="648" width="3.2" height="1.9" rx="0.6" fill="#111"/>
<rect x="92.65" y="688.9" width="3.2" height="1.9" rx="0.6" fill="#111"/>
<rect x="111.77" y="675.1" width="9.5" height="128.2" fill="#a4a9b9"/>
<rect x="121.27" y="694.2" width="9.7" height="109.1" fill="#1a9b8d"/>
<rect x="114.92" y="674" width="3.2" height="1.9" rx="0.6" fill="#111"/>
<rect x="124.52" y="693.1" width="3.2" height="1.9" rx="0.6" fill="#111"/>
<rect x="143.64" y="692.2" width="9.5" height="111.1" fill="#a4a9b9"/>
<rect x="153.14" y="733.9" width="9.7" height="69.4" fill="#1a9b8d"/>
<rect x="146.79" y="691.1" width="3.2" height="1.9" rx="0.6" fill="#111"/>
<rect x="156.39" y="732.8" width="3.2" height="1.9" rx="0.6" fill="#111"/>
<rect x="175.51" y="705.4" width="9.5" height="97.9" fill="#a4a9b9"/>
<rect x="185.01" y="743.8" width="9.7" height="59.5" fill="#1a9b8d"/>
<rect x="178.66" y="704.3" width="3.2" height="1.9" rx="0.6" fill="#111"/>
<rect x="188.26" y="742.7" width="3.2" height="1.9" rx="0.6" fill="#111"/>
<rect x="207.38" y="719.3" width="9.5" height="84" fill="#a4a9b9"/>
<rect x="216.88" y="769.2" width="9.7" height="34.1" fill="#1a9b8d"/>
<rect x="210.53" y="718.2" width="3.2" height="1.9" rx="0.6" fill="#111"/>
<rect x="220.13" y="768.1" width="3.2" height="1.9" rx="0.6" fill="#111"/>
<rect x="239.25" y="733" width="9.5" height="70.3" fill="#a4a9b9"/>
<rect x="248.75" y="776.9" width="9.7" height="26.4" fill="#1a9b8d"/>
<rect x="242.4" y="731.9" width="3.2" height="1.9" rx="0.6" fill="#111"/>
<rect x="252" y="775.8" width="3.2" height="1.9" rx="0.6" fill="#111"/>
<rect x="271.12" y="743.5" width="9.5" height="59.8" fill="#a4a9b9"/>
<rect x="280.62" y="794.7" width="9.7" height="8.6" fill="#1a9b8d"/>
<rect x="274.27" y="742.4" width="3.2" height="1.9" rx="0.6" fill="#111"/>
<rect x="283.87" y="793.6" width="3.2" height="1.9" rx="0.6" fill="#111"/>
<line x1="89.4" y1="803.3" x2="89.4" y2="807.6" stroke="#1a1a1a" stroke-width="1"/>
<text x="89.4" y="820.8" font-size="9.7" text-anchor="middle" fill="#231f20" font-weight="normal" font-style="normal" >1</text>
<line x1="121.27" y1="803.3" x2="121.27" y2="807.6" stroke="#1a1a1a" stroke-width="1"/>
<text x="121.27" y="820.8" font-size="9.7" text-anchor="middle" fill="#231f20" font-weight="normal" font-style="normal" >2</text>
<line x1="153.14" y1="803.3" x2="153.14" y2="807.6" stroke="#1a1a1a" stroke-width="1"/>
<text x="153.14" y="820.8" font-size="9.7" text-anchor="middle" fill="#231f20" font-weight="normal" font-style="normal" >3</text>
<line x1="185.01" y1="803.3" x2="185.01" y2="807.6" stroke="#1a1a1a" stroke-width="1"/>
<text x="185.01" y="820.8" font-size="9.7" text-anchor="middle" fill="#231f20" font-weight="normal" font-style="normal" >4</text>
<line x1="216.88" y1="803.3" x2="216.88" y2="807.6" stroke="#1a1a1a" stroke-width="1"/>
<text x="216.88" y="820.8" font-size="9.7" text-anchor="middle" fill="#231f20" font-weight="normal" font-style="normal" >5</text>
<line x1="248.75" y1="803.3" x2="248.75" y2="807.6" stroke="#1a1a1a" stroke-width="1"/>
<text x="248.75" y="820.8" font-size="9.7" text-anchor="middle" fill="#231f20" font-weight="normal" font-style="normal" >6</text>
<line x1="280.62" y1="803.3" x2="280.62" y2="807.6" stroke="#1a1a1a" stroke-width="1"/>
<text x="280.62" y="820.8" font-size="9.7" text-anchor="middle" fill="#231f20" font-weight="normal" font-style="normal" >7</text>
<line x1="301" y1="803.1" x2="305.5" y2="803.1" stroke="#1a1a1a" stroke-width="1"/>
<text x="310.4" y="806.6" font-size="9.7" text-anchor="start" fill="#231f20" font-weight="normal" font-style="normal" >0.0</text>
<line x1="301" y1="773.68" x2="305.5" y2="773.68" stroke="#1a1a1a" stroke-width="1"/>
<text x="310.4" y="777.18" font-size="9.7" text-anchor="start" fill="#231f20" font-weight="normal" font-style="normal" >0.2</text>
<line x1="301" y1="744.26" x2="305.5" y2="744.26" stroke="#1a1a1a" stroke-width="1"/>
<text x="310.4" y="747.76" font-size="9.7" text-anchor="start" fill="#231f20" font-weight="normal" font-style="normal" >0.4</text>
<line x1="301" y1="714.84" x2="305.5" y2="714.84" stroke="#1a1a1a" stroke-width="1"/>
<text x="310.4" y="718.34" font-size="9.7" text-anchor="start" fill="#231f20" font-weight="normal" font-style="normal" >0.6</text>
<line x1="301" y1="685.42" x2="305.5" y2="685.42" stroke="#1a1a1a" stroke-width="1"/>
<text x="310.4" y="688.92" font-size="9.7" text-anchor="start" fill="#231f20" font-weight="normal" font-style="normal" >0.8</text>
<line x1="301" y1="656" x2="305.5" y2="656" stroke="#1a1a1a" stroke-width="1"/>
<text x="310.4" y="659.5" font-size="9.7" text-anchor="start" fill="#231f20" font-weight="normal" font-style="normal" >1.0</text>
<polyline points="89.4,665.5 121.27,656.4 153.14,655.5 185.01,656 216.88,656.1 248.75,656.1 280.62,656.1" fill="none" stroke="#3a86c8" stroke-width="0.95"/>
<polyline points="89.4,751.4 121.27,682.2 153.14,662 185.01,658.9 216.88,656.2 248.75,656.4 280.62,656.1" fill="none" stroke="#3a86c8" stroke-width="0.95"/>
<polygon points="89.4,661.7 90.56,663.9 93.01,664.33 91.28,666.11 91.63,668.57 89.4,667.48 87.17,668.57 87.52,666.11 85.79,664.33 88.24,663.9" fill="#1f6cac" stroke="#1f6cac" stroke-width="0.5" stroke-linejoin="round"/>
<polygon points="121.27,652.6 122.43,654.8 124.88,655.23 123.15,657.01 123.5,659.47 121.27,658.38 119.04,659.47 119.39,657.01 117.66,655.23 120.11,654.8" fill="#1f6cac" stroke="#1f6cac" stroke-width="0.5" stroke-linejoin="round"/>
<polygon points="153.14,651.7 154.3,653.9 156.75,654.33 155.02,656.11 155.37,658.57 153.14,657.48 150.91,658.57 151.26,656.11 149.53,654.33 151.98,653.9" fill="#1f6cac" stroke="#1f6cac" stroke-width="0.5" stroke-linejoin="round"/>
<polygon points="185.01,652.2 186.17,654.4 188.62,654.83 186.89,656.61 187.24,659.07 185.01,657.98 182.78,659.07 183.13,656.61 181.4,654.83 183.85,654.4" fill="#1f6cac" stroke="#1f6cac" stroke-width="0.5" stroke-linejoin="round"/>
<rect x="85.6" y="747.6" width="7.6" height="7.6" fill="#4a8ad0" stroke="#2166ac" stroke-width="1.1"/>
<rect x="117.47" y="678.4" width="7.6" height="7.6" fill="#4a8ad0" stroke="#2166ac" stroke-width="1.1"/>
<rect x="149.34" y="658.2" width="7.6" height="7.6" fill="#4a8ad0" stroke="#2166ac" stroke-width="1.1"/>
<rect x="181.21" y="655.1" width="7.6" height="7.6" fill="#4a8ad0" stroke="#2166ac" stroke-width="1.1"/>
<rect x="213.08" y="652.4" width="7.6" height="7.6" fill="#4a8ad0" stroke="#2166ac" stroke-width="1.1"/>
<rect x="244.95" y="652.6" width="7.6" height="7.6" fill="#4a8ad0" stroke="#2166ac" stroke-width="1.1"/>
<rect x="276.82" y="652.3" width="7.6" height="7.6" fill="#4a8ad0" stroke="#2166ac" stroke-width="1.1"/>
<line x1="198.8" y1="678.3" x2="209" y2="678.3" stroke="#3a86c8" stroke-width="1.1"/>
<rect x="200.2" y="674.5" width="7.6" height="7.6" fill="#4a8ad0" stroke="#2166ac" stroke-width="1.1"/>
<rect x="214.8" y="674.5" width="9.8" height="6.5" fill="#a4a9b9"/>
<text x="232.8" y="680.8" font-size="9.7" text-anchor="start" fill="#231f20" font-weight="normal" font-style="normal" >Traditional</text>
<line x1="198.8" y1="693.5" x2="209" y2="693.5" stroke="#3a86c8" stroke-width="1.1"/>
<polygon points="203.9,689.7 205.06,691.9 207.51,692.33 205.78,694.11 206.13,696.57 203.9,695.48 201.67,696.57 202.02,694.11 200.29,692.33 202.74,691.9" fill="#1f6cac" stroke="#1f6cac" stroke-width="0.5" stroke-linejoin="round"/>
<rect x="215.1" y="690.1" width="9.9" height="6.6" fill="#1a9b8d"/>
<text x="233.4" y="696.7" font-size="9.7" text-anchor="start" fill="#231f20" font-weight="normal" font-style="normal" >Proposed</text>
<text x="185.5" y="834.8" font-size="9.7" text-anchor="middle" fill="#231f20" font-weight="normal" font-style="normal" >Read count per retrieval</text>
<text x="33.2" y="722.3" font-size="9.7" text-anchor="middle" fill="#231f20" transform="rotate(-90 33.2 722.3)">Bit error rate</text>
<text x="337.2" y="721.8" font-size="9.7" text-anchor="middle" fill="#4b93d3" transform="rotate(-90 337.2 721.8)">Recovery ratio</text>
<text x="374.9" y="621.3" font-size="14.5" text-anchor="start" fill="#231f20" font-weight="bold" font-style="normal" >e</text>
<path d="M437.5 641.1 V803.5 H676.9" fill="none" stroke="#1a1a1a" stroke-width="1.25"/>
<line x1="433.2" y1="789" x2="437.5" y2="789" stroke="#1a1a1a" stroke-width="1"/>
<text x="427.3" y="792.5" font-size="9.7" text-anchor="end" fill="#231f20" font-weight="normal" font-style="normal" >0</text>
<line x1="433.2" y1="758.36" x2="437.5" y2="758.36" stroke="#1a1a1a" stroke-width="1"/>
<text x="427.3" y="761.86" font-size="9.7" text-anchor="end" fill="#231f20" font-weight="normal" font-style="normal" >20</text>
<line x1="433.2" y1="727.72" x2="437.5" y2="727.72" stroke="#1a1a1a" stroke-width="1"/>
<text x="427.3" y="731.22" font-size="9.7" text-anchor="end" fill="#231f20" font-weight="normal" font-style="normal" >40</text>
<line x1="433.2" y1="697.08" x2="437.5" y2="697.08" stroke="#1a1a1a" stroke-width="1"/>
<text x="427.3" y="700.58" font-size="9.7" text-anchor="end" fill="#231f20" font-weight="normal" font-style="normal" >60</text>
<line x1="433.2" y1="666.44" x2="437.5" y2="666.44" stroke="#1a1a1a" stroke-width="1"/>
<text x="427.3" y="669.94" font-size="9.7" text-anchor="end" fill="#231f20" font-weight="normal" font-style="normal" >80</text>
<line x1="471" y1="803.5" x2="471" y2="808.1" stroke="#1a1a1a" stroke-width="1"/>
<text x="471" y="821" font-size="9.7" text-anchor="middle" fill="#231f20" font-weight="normal" font-style="normal" >pLP1</text>
<line x1="528.2" y1="803.5" x2="528.2" y2="808.1" stroke="#1a1a1a" stroke-width="1"/>
<text x="528.2" y="821" font-size="9.7" text-anchor="middle" fill="#231f20" font-weight="normal" font-style="normal" >pLP2</text>
<line x1="585.5" y1="803.5" x2="585.5" y2="808.1" stroke="#1a1a1a" stroke-width="1"/>
<text x="585.5" y="821" font-size="9.7" text-anchor="middle" fill="#231f20" font-weight="normal" font-style="normal" >pLP3</text>
<line x1="643.1" y1="803.5" x2="643.1" y2="808.1" stroke="#1a1a1a" stroke-width="1"/>
<text x="643.1" y="821" font-size="9.7" text-anchor="middle" fill="#231f20" font-weight="normal" font-style="normal" >pLP4</text>
<text x="555" y="632.2" font-size="9.7" text-anchor="middle" fill="#231f20" font-weight="normal" font-style="normal" >Reads from pLP1–pLP4</text>
<text x="557" y="834.6" font-size="9.7" text-anchor="middle" fill="#231f20" font-weight="normal" font-style="normal" >Samples</text>
<text x="409.3" y="722.4" font-size="9.7" text-anchor="middle" fill="#231f20" transform="rotate(-90 409.3 722.4)">Length (kb)</text>
<line x1="471" y1="679.6" x2="471" y2="730.6" stroke="#3a3a3a" stroke-width="0.8"/>
<path d="M471.5 729.6 C473.13 729.6 473.7 731.33 475.9 732.2 C478.1 733.07 481.72 733.93 484.7 734.8 C487.68 735.67 494.53 736.52 493.8 737.4 C493.07 738.28 483.43 739.07 480.3 740.1 C477.17 741.13 475.97 742.43 475 743.6 C474.03 744.77 474.47 744.18 474.5 747.1 C474.53 750.02 474.82 757.02 475.2 761.1 C475.58 765.18 475.95 768.68 476.8 771.6 C477.65 774.52 479.13 776.32 480.3 778.6 C481.47 780.88 484.02 783.48 483.8 785.3 C483.58 787.12 480.63 788.38 479 789.5 C477.37 790.62 475.33 791.18 474 792 C472.67 792.82 472 794.4 471 794.4 C470 794.4 469.33 792.82 468 792 C466.67 791.18 464.63 790.62 463 789.5 C461.37 788.38 458.42 787.12 458.2 785.3 C457.98 783.48 460.53 780.88 461.7 778.6 C462.87 776.32 464.35 774.52 465.2 771.6 C466.05 768.68 466.42 765.18 466.8 761.1 C467.18 757.02 467.47 750.02 467.5 747.1 C467.53 744.18 467.97 744.77 467 743.6 C466.03 742.43 464.83 741.13 461.7 740.1 C458.57 739.07 448.93 738.28 448.2 737.4 C447.47 736.52 454.32 735.67 457.3 734.8 C460.28 733.93 463.73 733.07 466.1 732.2 C468.47 731.33 469.87 729.6 471.5 729.6 Z" fill="#97aca7" stroke="#3a3a3a" stroke-width="0.7" stroke-linejoin="round"/>
<line x1="471" y1="735" x2="471" y2="790" stroke="#333" stroke-width="0.9"/>
<line x1="471" y1="741" x2="471" y2="783.9" stroke="#333" stroke-width="2"/>
<line x1="528.1" y1="681.9" x2="528.1" y2="733.2" stroke="#3a3a3a" stroke-width="0.8"/>
<path d="M528.6 732.2 C530.17 732.2 530.63 733.42 532.8 734 C534.97 734.58 538.67 735.13 541.6 735.7 C544.53 736.27 550.65 736.82 550.4 737.4 C550.15 737.98 543.28 738.47 540.1 739.2 C536.92 739.93 532.8 740.48 531.3 741.8 C529.8 743.12 530.88 743.88 531.1 747.1 C531.32 750.32 532.02 756.72 532.6 761.1 C533.18 765.48 533.68 770.18 534.6 773.4 C535.52 776.62 537.15 778.25 538.1 780.4 C539.05 782.55 540.8 784.73 540.3 786.3 C539.8 787.87 536.63 788.92 535.1 789.8 C533.57 790.68 532.27 791.07 531.1 791.6 C529.93 792.13 529.1 793 528.1 793 C527.1 793 526.27 792.13 525.1 791.6 C523.93 791.07 522.63 790.68 521.1 789.8 C519.57 788.92 516.4 787.87 515.9 786.3 C515.4 784.73 517.15 782.55 518.1 780.4 C519.05 778.25 520.68 776.62 521.6 773.4 C522.52 770.18 523.02 765.48 523.6 761.1 C524.18 756.72 524.88 750.32 525.1 747.1 C525.32 743.88 526.4 743.12 524.9 741.8 C523.4 740.48 519.28 739.93 516.1 739.2 C512.92 738.47 506.05 737.98 505.8 737.4 C505.55 736.82 511.67 736.27 514.6 735.7 C517.53 735.13 521.07 734.58 523.4 734 C525.73 733.42 527.03 732.2 528.6 732.2 Z" fill="#1d9b8f" stroke="#3a3a3a" stroke-width="0.7" stroke-linejoin="round"/>
<line x1="528.1" y1="736" x2="528.1" y2="790" stroke="#333" stroke-width="0.9"/>
<line x1="528.1" y1="740.1" x2="528.1" y2="783.9" stroke="#333" stroke-width="2"/>
<line x1="585.5" y1="648.3" x2="585.5" y2="712.9" stroke="#3a3a3a" stroke-width="0.8"/>
<path d="M586 711.9 C587.97 711.9 588.85 713.92 591.4 714.9 C593.95 715.88 598.45 716.55 601.3 717.8 C604.15 719.05 609.33 720.92 608.5 722.4 C607.67 723.88 599.6 725.33 596.3 726.7 C593 728.07 589.92 727.97 588.7 730.6 C587.48 733.23 588.75 737.9 589 742.5 C589.25 747.1 589.92 753.62 590.2 758.2 C590.48 762.78 590.17 766.72 590.7 770 C591.23 773.28 592.47 775.3 593.4 777.9 C594.33 780.5 596.53 783.5 596.3 785.6 C596.07 787.7 593.38 789.1 592 790.5 C590.62 791.9 589.08 792.97 588 794 C586.92 795.03 586.33 796.7 585.5 796.7 C584.67 796.7 584.08 795.03 583 794 C581.92 792.97 580.38 791.9 579 790.5 C577.62 789.1 574.93 787.7 574.7 785.6 C574.47 783.5 576.67 780.5 577.6 777.9 C578.53 775.3 579.77 773.28 580.3 770 C580.83 766.72 580.52 762.78 580.8 758.2 C581.08 753.62 581.75 747.1 582 742.5 C582.25 737.9 583.52 733.23 582.3 730.6 C581.08 727.97 578 728.07 574.7 726.7 C571.4 725.33 563.33 723.88 562.5 722.4 C561.67 720.92 566.85 719.05 569.7 717.8 C572.55 716.55 576.88 715.88 579.6 714.9 C582.32 713.92 584.03 711.9 586 711.9 Z" fill="#8ca7d9" stroke="#3a3a3a" stroke-width="0.7" stroke-linejoin="round"/>
<line x1="585.5" y1="716" x2="585.5" y2="794" stroke="#333" stroke-width="0.9"/>
<line x1="585.5" y1="724.7" x2="585.5" y2="778.9" stroke="#333" stroke-width="2"/>
<line x1="643.1" y1="648.3" x2="643.1" y2="713.9" stroke="#3a3a3a" stroke-width="0.8"/>
<path d="M643.6 712.9 C645.77 712.9 647.28 714.92 649.6 715.9 C651.92 716.88 654.8 717.65 657.5 718.8 C660.2 719.95 666.47 721.48 665.8 722.8 C665.13 724.12 656.7 725.4 653.5 726.7 C650.3 728 647.58 727.32 646.6 730.6 C645.62 733.88 647.27 741.13 647.6 746.4 C647.93 751.67 647.87 757.6 648.6 762.2 C649.33 766.8 650.52 770.27 652 774 C653.48 777.73 657.48 782 657.5 784.6 C657.52 787.2 653.92 788.2 652.1 789.6 C650.28 791 648.1 791.98 646.6 793 C645.1 794.02 644.27 795.7 643.1 795.7 C641.93 795.7 641.1 794.02 639.6 793 C638.1 791.98 635.92 791 634.1 789.6 C632.28 788.2 628.68 787.2 628.7 784.6 C628.72 782 632.72 777.73 634.2 774 C635.68 770.27 636.87 766.8 637.6 762.2 C638.33 757.6 638.27 751.67 638.6 746.4 C638.93 741.13 640.58 733.88 639.6 730.6 C638.62 727.32 635.9 728 632.7 726.7 C629.5 725.4 621.07 724.12 620.4 722.8 C619.73 721.48 626 719.95 628.7 718.8 C631.4 717.65 634.12 716.88 636.6 715.9 C639.08 714.92 641.43 712.9 643.6 712.9 Z" fill="#4d6aa2" stroke="#3a3a3a" stroke-width="0.7" stroke-linejoin="round"/>
<line x1="643.1" y1="716" x2="643.1" y2="793" stroke="#333" stroke-width="0.9"/>
<line x1="643.1" y1="724.7" x2="643.1" y2="780.9" stroke="#333" stroke-width="2"/>
<polyline points="471,737.4 528.1,737.4 585.5,722.4 643.1,722.4" fill="none" stroke="#f0961a" stroke-width="1.4"/>
<circle cx="471" cy="737.4" r="3.5" fill="#f0961a"/>
<circle cx="528.1" cy="737.4" r="3.5" fill="#f0961a"/>
<circle cx="585.5" cy="722.4" r="3.5" fill="#f0961a"/>
<circle cx="643.1" cy="722.4" r="3.5" fill="#f0961a"/>
<line x1="589.5" y1="653.4" x2="610.6" y2="653.4" stroke="#f0961a" stroke-width="1.4"/>
<circle cx="600" cy="653.4" r="3.4" fill="#f0961a"/>
<text x="617.7" y="656.7" font-size="9.7" text-anchor="start" fill="#231f20" font-weight="normal" font-style="normal" >Ideal length</text>
</svg></body></html>
